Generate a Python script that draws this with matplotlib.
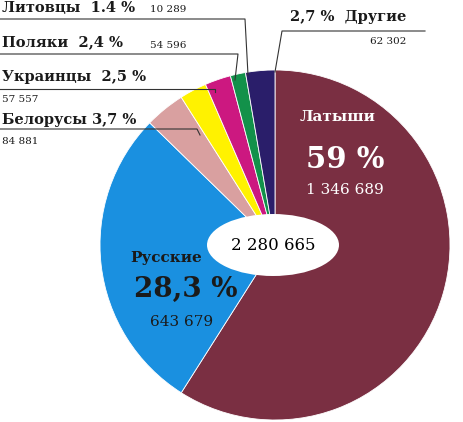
import matplotlib
matplotlib.use("Agg")
import matplotlib.pyplot as plt
from matplotlib.patches import Ellipse

names = ["Латыши", "Русские", "Белорусы", "Украинцы", "Поляки", "Литовцы", "Другие"]
shares = [59.0, 28.3, 3.7, 2.5, 2.4, 1.4, 2.7]
counts = ["1 346 689", "643 679", "84 881", "57 557", "54 596", "10 289", "62 302"]
pct_labels = ["59 %", "28,3 %", "3,7 %", "2,5 %", "2,4 %", "1.4 %", "2,7 %"]
total = "2 280 665"
colors = ["#7a2f42", "#1a90e0", "#d9a0a0", "#fff200", "#cc1880", "#12914a", "#2a1e6a"]

W, H = 463, 422
fig = plt.figure(figsize=(W/100, H/100), dpi=100)
ax = fig.add_axes([0, 0, 1, 1])
ax.set_xlim(0, W); ax.set_ylim(0, H); ax.set_aspect("equal"); ax.axis("off")
Y = lambda y: H - y
cx, cy, r = 275, 245, 175
ax.pie(shares, colors=colors, startangle=90, counterclock=False, center=(cx, Y(cy)),
       radius=r, wedgeprops=dict(edgecolor="white", linewidth=0.6), frame=True)
ax.set_xlim(0, W); ax.set_ylim(0, H); ax.axis("off")

ax.add_patch(Ellipse((cx - 2, Y(245)), 132, 62, facecolor="white", edgecolor="none", zorder=5))
ax.text(cx - 2, Y(245), total, ha="center", va="center", fontsize=12, family="DejaVu Serif", zorder=6)

serif = "DejaVu Serif"
ax.text(338, Y(117), names[0], color="white", fontsize=11, weight="bold", family=serif, ha="center", va="center")
ax.text(345, Y(160), pct_labels[0], color="white", fontsize=21, weight="bold", family=serif, ha="center", va="center")
ax.text(345, Y(190), counts[0], color="white", fontsize=11, family=serif, ha="center", va="center")
ax.text(166, Y(258), names[1], color="#1a1a1a", fontsize=11, weight="bold", family=serif, ha="center", va="center")
ax.text(186, Y(289), pct_labels[1], color="#1a1a1a", fontsize=20, weight="bold", family=serif, ha="center", va="center")
ax.text(182, Y(322), counts[1], color="#1a1a1a", fontsize=11, family=serif, ha="center", va="center")

def lab(text, x, y, cnt, cx_, cy_, ly, lx0, lx1, px, py):
    ax.text(x, Y(y), text, fontsize=10.5, weight="bold", family=serif, va="center", color="#1a1a1a")
    ax.text(cx_, Y(cy_), cnt, fontsize=7.5, family=serif, va="center", color="#1a1a1a")
    ax.plot([lx0, lx1, px], [Y(ly), Y(ly), Y(py)], color="#333333", lw=0.8)

lab(names[5] + "  " + pct_labels[5], 2, 8, counts[5], 150, 10, 19, 0, 245, 248, 75)
lab(names[4] + "  " + pct_labels[4], 2, 42, counts[4], 150, 46, 54, 0, 238, 235, 80)
lab(names[3] + "  " + pct_labels[3], 2, 77, counts[3], 2, 99, 89, 0, 215, 215, 92)
lab(names[2] + " " + pct_labels[2], 2, 120, counts[2], 2, 141, 129, 0, 197, 200, 135)
ax.text(290, Y(17), pct_labels[6] + "  " + names[6], fontsize=10.5, weight="bold", family=serif, va="center", color="#1a1a1a")
ax.text(370, Y(41), counts[6], fontsize=7.5, family=serif, va="center", color="#1a1a1a")
ax.plot([425, 282, 275], [Y(31), Y(31), Y(72)], color="#333333", lw=0.8)

fig.savefig("out.png", dpi=100)
